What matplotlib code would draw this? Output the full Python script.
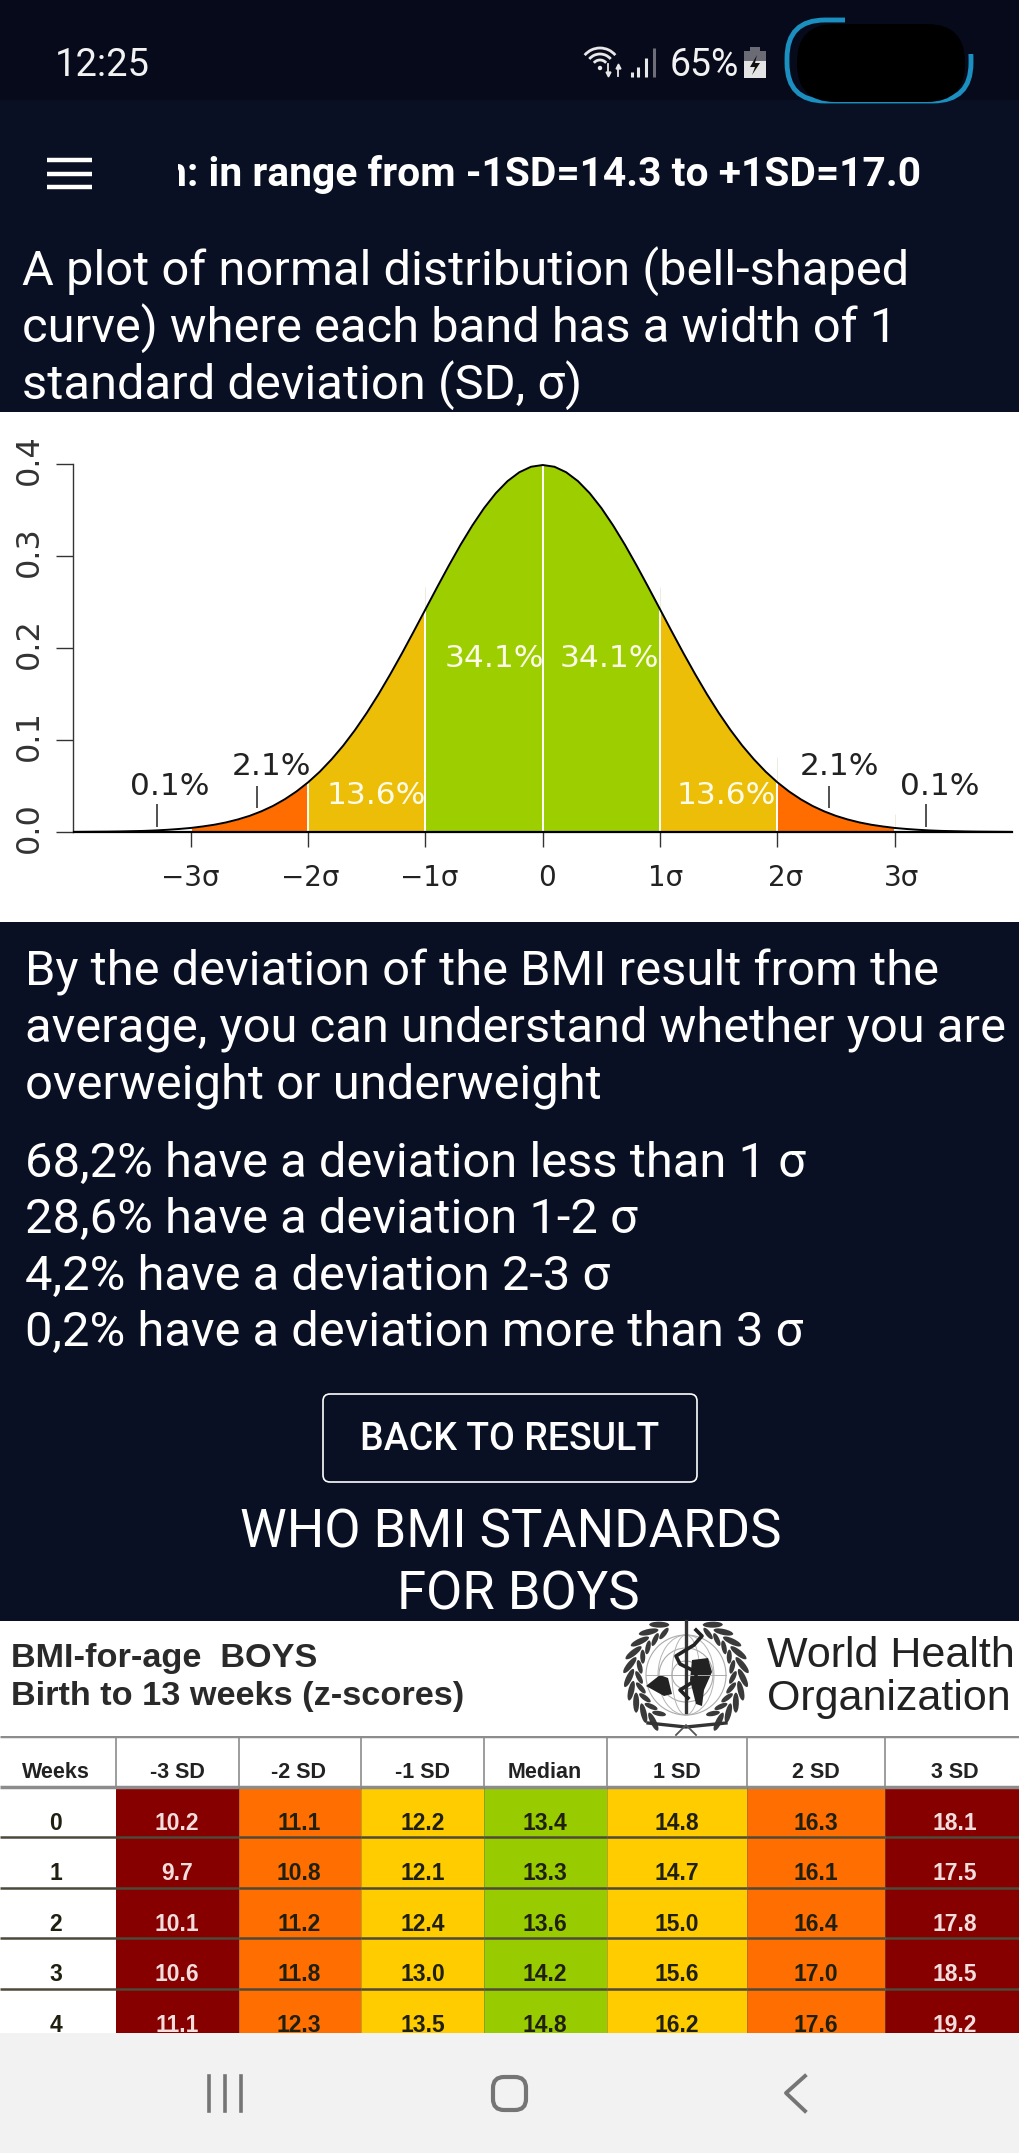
import numpy as np
import matplotlib
matplotlib.use('Agg')
import matplotlib.pyplot as plt
from matplotlib.colors import ListedColormap
from matplotlib.patches import Rectangle, FancyBboxPatch, Ellipse, Circle, Arc, Polygon
from matplotlib.transforms import ScaledTranslation

W, H = 1020, 2153

# bell curve (right half, mirrored)
bell_half = [.3989, .3970, .3910, .3814, .3683, .3521, .3332, .3123, .2897, .2661,
             .2420, .2179, .1942, .1714, .1497, .1295, .1109, .0940, .0790, .0656,
             .0540, .0440, .0355, .0283, .0224, .0175, .0136, .0104, .0079, .0060,
             .0044, .0033, .0024, .0017, .0012, .0009, .0006, .0004, .0003, .0002, .0001]
bell_y = bell_half[:0:-1] + bell_half
bell_x = [i / 10 for i in range(-40, 41)]
band_edges = [-3, -2, -1, 0, 1, 2, 3]
band_colors = ['#FF6C00', '#EDBE07', '#9CCE00', '#9CCE00', '#EDBE07', '#FF6C00']
sigma_ticks = [-3, -2, -1, 0, 1, 2, 3]
sigma_labels = ['\u22123\u03c3', '\u22122\u03c3', '\u22121\u03c3', '0', '1\u03c3', '2\u03c3', '3\u03c3']
y_ticks = [0.0, 0.1, 0.2, 0.3, 0.4]
pct_labels = ['34.1%', '34.1%', '13.6%', '13.6%', '2.1%', '2.1%', '0.1%', '0.1%']
pct_x = [-0.41, 0.57, -1.42, 1.56, -2.31, 2.53, -3.18, 3.38]
pct_y = [.189, .189, .040, .040, .0707, .0707, .049, .049]

# table
table_cols = ['Weeks', '-3 SD', '-2 SD', '-1 SD', 'Median', '1 SD', '2 SD', '3 SD']
weeks = ['0', '1', '2', '3', '4']
minus3 = ['10.2', '9.7', '10.1', '10.6', '11.1']
minus2 = ['11.1', '10.8', '11.2', '11.8', '12.3']
minus1 = ['12.2', '12.1', '12.4', '13.0', '13.5']
median = ['13.4', '13.3', '13.6', '14.2', '14.8']
plus1 = ['14.8', '14.7', '15.0', '15.6', '16.2']
plus2 = ['16.3', '16.1', '16.4', '17.0', '17.6']
plus3 = ['18.1', '17.5', '17.8', '18.5', '19.2']
table_rows = [weeks, minus3, minus2, minus1, median, plus1, plus2, plus3]
col_edges = [0, 116, 239, 361, 484, 607, 747, 885, 1020]
col_band = [0, 1, 2, 3, 4, 3, 2, 1]
cell_colors = ['#FFFFFF', '#860000', '#FF6E00', '#FFCC00', '#99CC00']

intro = ['A plot of normal distribution (bell-shaped',
         'curve) where each band has a width of 1',
         'standard deviation (SD, \u03c3)']
para1 = ['By the deviation of the BMI result from the',
         'average, you can understand whether you are',
         'overweight or underweight']
para2 = ['68,2% have a deviation less than 1 \u03c3',
         '28,6% have a deviation 1-2 \u03c3',
         '4,2% have a deviation 2-3 \u03c3',
         '0,2% have a deviation more than 3 \u03c3']

BG = '#0A1024'
plt.rcParams['font.family'] = ['Roboto', 'DejaVu Sans']

fig = plt.figure(figsize=(W / 100, H / 100), dpi=100, facecolor=BG)


def px_axes(x0, y0, x1, y1, **kw):
    return fig.add_axes([x0 / W, 1 - y1 / H, (x1 - x0) / W, (y1 - y0) / H], **kw)


bg = px_axes(0, 0, W, H)
bg.set_xlim(0, W)
bg.set_ylim(H, 0)
bg.axis('off')


def txt(x, y, s, size, color='white', ha='left', **kw):
    return bg.text(x, y, s, fontsize=size, color=color, ha=ha, va='center', **kw)


# phone chrome
bg.add_patch(Rectangle((0, 0), W, 100, fc='#060A1B', ec='none'))
bg.add_patch(Rectangle((0, 412), W, 510, fc='white', ec='none'))
bg.add_patch(Rectangle((0, 1621), W, 115, fc='white', ec='none'))
bg.add_patch(Rectangle((0, 2033), W, 120, fc='#F2F2F2', ec='none'))

txt(55, 65, '12:25', 27.5, color='#F2F2F2')
txt(670, 65, '65%', 27, color='#F2F2F2')

# wifi + signal + battery
for r in [8, 14, 20]:
    bg.add_patch(Arc((600, 68), r * 2, r * 2, theta1=220, theta2=320, color='#E8E8E8', lw=2))
bg.add_patch(Circle((600, 68), 2.2, fc='#E8E8E8', ec='none'))
bg.plot([608, 608], [64, 74], color='#E8E8E8', lw=1.3)
bg.plot([608], [74], marker='v', ms=3.5, color='#E8E8E8')
bg.plot([618, 618], [66, 76], color='#E8E8E8', lw=1.3)
bg.plot([618], [66], marker='^', ms=3.5, color='#E8E8E8')
for x, top, c in zip([632, 638, 646, 654], [72, 67, 58, 48], ['#E8E8E8'] * 3 + ['#6E6E78']):
    bg.plot([x, x], [top, 77], color=c, lw=2.2, solid_capstyle='butt')
bg.add_patch(Rectangle((744, 51), 22, 10, fc='#6B6B75', ec='none'))
bg.add_patch(Rectangle((744, 61), 22, 17, fc='#E4E4E4', ec='none'))
bg.add_patch(Rectangle((750, 47), 10, 4, fc='#6B6B75', ec='none'))
bg.add_patch(Polygon([(757, 55), (750, 67), (755, 67), (752, 75), (760, 63), (755, 63)],
                     fc='#111111', ec='none'))

# blue ring and black pill
ring = FancyBboxPatch((825, 58), 108, 5, boxstyle='round,pad=38,rounding_size=38',
                      fc='none', ec='#1A8FC0', lw=3.5, zorder=2)
bg.add_patch(ring)
bg.add_patch(Rectangle((845, 12), 135, 42, fc='#060A1B', ec='none', zorder=3))
bg.add_patch(FancyBboxPatch((835, 62), 92, 2, boxstyle='round,pad=38,rounding_size=38',
                            fc='black', ec='none', zorder=4))

# app bar
for y in [160, 174, 187]:
    bg.plot([47, 92], [y, y], color='white', lw=3.2, solid_capstyle='butt')
title = txt(921, 175, 'n: in range from -1SD=14.3 to +1SD=17.0', 29.3, ha='right', weight='bold')
title.set_clip_on(True)
title.set_clip_path(Rectangle((178, 130), 760, 80, transform=bg.transData))

for line, y in zip(intro, [271, 328, 385]):
    txt(22, y, line, 35.2)
for line, y in zip(para1, [972, 1029, 1086]):
    txt(25, y, line, 35.2)
for line, y in zip(para2, [1164, 1220, 1277, 1333]):
    txt(25, y, line, 35.2)

bg.add_patch(FancyBboxPatch((323, 1394), 374, 88, boxstyle='round,pad=0,rounding_size=7',
                            fc='none', ec='white', lw=1.2))
txt(510, 1439, 'BACK TO RESULT', 27, ha='center', weight='medium')
txt(511, 1533, 'WHO BMI STANDARDS', 37.9, ha='center')
txt(518, 1595, 'FOR BOYS', 37.9, ha='center')

# bell plot
ax = px_axes(73.5, 464, 1012, 832)
ax.patch.set_alpha(0)
ax.set_xlim(-4, 4)
ax.set_ylim(0, 0.4)
xs = np.array(bell_x)
ys = np.array(bell_y)
for a, b, c in zip(band_edges[:-1], band_edges[1:], band_colors):
    m = (xs >= a - 1e-6) & (xs <= b + 1e-6)
    ax.fill_between(xs[m], 0, ys[m], color=c, lw=0)
edge_y = [ys[np.argmin(abs(xs - e))] for e in band_edges]
ax.vlines(band_edges, 0, edge_y, color='white', lw=1.4)
ax.vlines([-1, 1, 2, 3], edge_y[2:3] + edge_y[4:], [.266, .266, .0815, .02], color='#EFEBDD', lw=0.7)
ax.plot(xs, ys, color='black', lw=1.4)
for s in ['top', 'right']:
    ax.spines[s].set_visible(False)
ax.spines['left'].set_bounds(0, 0.4)
ax.spines['left'].set_linewidth(1.0)
ax.spines['left'].set_color('#333333')
ax.spines['bottom'].set_linewidth(1.6)
ax.set_xticks(sigma_ticks)
ax.set_xticklabels(sigma_labels, family='DejaVu Sans', fontsize=20, color='#222222')
ax.set_yticks(y_ticks)
ax.set_yticklabels([f'{v:.1f}' for v in y_ticks], family='DejaVu Sans', fontsize=23,
                   color='#333333', rotation=90, va='center')
ax.tick_params(axis='x', length=10.8, width=1.0, pad=12, color='#333333')
ax.tick_params(axis='y', length=12.5, width=1.0, pad=8, color='#333333')
# labels in the source sit a little off their ticks
for lab, dx in zip(ax.get_xticklabels(), [0, 2, 4, 4, 6, 8, 7]):
    lab.set_transform(lab.get_transform() + ScaledTranslation(dx / 100, 0, fig.dpi_scale_trans))
for lab in ax.get_yticklabels():
    lab.set_transform(lab.get_transform() + ScaledTranslation(0, 4 / 100, fig.dpi_scale_trans))
for s, x, y in zip(pct_labels, pct_x, pct_y):
    col = '#FBFBE8' if s in ('34.1%', '13.6%') else '#222222'
    ax.text(x, y, s, family='DejaVu Sans', fontsize=22.5, color=col, ha='center', va='center')
ax.vlines([-3.29, 3.27], .0054, .0304, color='#222222', lw=1.1)
ax.vlines([-2.44, 2.44], .026, .050, color='#222222', lw=1.1)

# table header
bold = dict(family='Liberation Sans', weight='bold')
txt(11, 1659, 'BMI-for-age  BOYS', 24.7, color='#2A2A2A', **bold)
txt(11, 1697, 'Birth to 13 weeks (z-scores)', 24.7, color='#2A2A2A', **bold)
txt(767, 1656, 'World Health', 31, color='#222222', family='Liberation Sans')
txt(767, 1699, 'Organization', 31, color='#222222', family='Liberation Sans')

# WHO emblem
cx, cy = 686, 1675
for r in [40, 27, 14]:
    bg.add_patch(Circle((cx, cy), r, fc='none', ec='#AAAAAA', lw=0.8))
for rx in [14, 28]:
    bg.add_patch(Ellipse((cx, cy), rx * 2, 80, fc='none', ec='#B4B4B4', lw=0.7))
bg.plot([cx - 40, cx + 40], [cy, cy], color='#AAAAAA', lw=0.7)
for sgn in [-1, 1]:
    for deg in range(125, 245, 13):
        t = np.radians(deg)
        ux, uy = np.cos(t), np.sin(t)
        # tangent running up the wreath on this side
        vx, vy = uy, -ux
        for r, k, ln, wd in [(57, 0.55, 20, 6), (47, -0.45, 14, 5)]:
            dx, dy = k * ux + vx, k * uy + vy
            ang = np.degrees(np.arctan2(dy, sgn * -dx))
            bg.add_patch(Ellipse((cx - sgn * r * ux, cy + r * uy), ln, wd, angle=ang,
                                 fc='#3A3A3A', ec='none'))
bg.add_patch(Polygon([(646, 1686), (660, 1675), (668, 1678), (672, 1694), (664, 1696)],
                     fc='#222222', ec='none'))
bg.add_patch(Polygon([(692, 1660), (708, 1658), (712, 1672), (704, 1690), (702, 1706), (696, 1704), (690, 1680)],
                     fc='#222222', ec='none'))
bg.plot([cx, cx], [1621, 1712], color='#333333', lw=2.4)
sy = [1630, 1636, 1645, 1656, 1664, 1672, 1680, 1690, 1698]
sx = [696, 702, 694, 676, 680, 696, 696, 680, 688]
bg.plot(sx, sy, color='#222222', lw=2.6)
bg.plot([648, 686, 726], [1723, 1727, 1723], color='#333333', lw=2.4)
bg.plot([676, 686, 696], [1735, 1725, 1735], color='#555555', lw=1.3)

# table body, one row unit = 50.6 px, header is row -1
tab = px_axes(0, 1736, W, 2033)
tab.set_xlim(0, W)
tab.set_ylim(4.87, -1)
tab.axis('off')
band_idx = np.array([col_band] * 5)
tab.pcolormesh(col_edges, [0, 1, 2, 3, 4, 5], band_idx, cmap=ListedColormap(cell_colors),
               vmin=-0.5, vmax=4.5)
tab.add_patch(Rectangle((0, -1), W, 1, fc='white', ec='none', zorder=0))
tab.hlines([-1, 0], 0, W, color='#8C8C8C', lw=2.5, zorder=3)
tab.hlines([1, 2, 3, 4], 0, W, color='#4D4A3A', lw=1.8, zorder=3)
tab.vlines(col_edges[1:-1], -1, 0, color='#8C8C8C', lw=1.2, zorder=3)
tab.vlines(col_edges[2:-1], 0, 5, color='#6E6A50', lw=0.5, alpha=0.6, zorder=3)
centers = [56, 177, 299, 423, 545, 677, 816, 955]
for j, (name, vals, c) in enumerate(zip(table_cols, table_rows, centers)):
    tab.text(c, -0.28, name, fontsize=15.5, color='#222222', ha='center', va='center', **bold)
    col = '#F2DDDD' if col_band[j] == 1 else '#202010'
    for i, v in enumerate(vals):
        tab.text(c, i + 0.72, v, fontsize=16.5, color=col, ha='center', va='center',
                 clip_on=True, **bold)

# nav bar
for x in [209, 225, 241]:
    bg.plot([x, x], [2076, 2111], color='#757575', lw=2.6)
bg.add_patch(FancyBboxPatch((493, 2077), 33, 33, boxstyle='round,pad=0,rounding_size=11',
                            fc='none', ec='#757575', lw=3))
bg.plot([805, 786, 805], [2076, 2093, 2111], color='#757575', lw=2.8)

fig.savefig('out.png', dpi=100, facecolor=BG)
